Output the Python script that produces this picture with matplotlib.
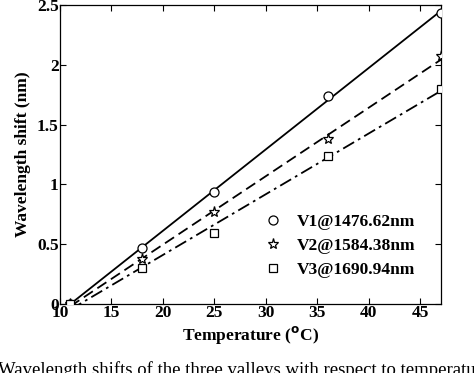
import numpy as np
import matplotlib
matplotlib.use('Agg')
import matplotlib.pyplot as plt

# temperatures (deg C) and measured wavelength shifts (nm)
temperature = [11, 18, 25, 36, 47]
shift_v1 = [0.0, 0.47, 0.94, 1.74, 2.43]
shift_v2 = [0.0, 0.38, 0.77, 1.38, 2.07]
shift_v3 = [0.0, 0.30, 0.59, 1.24, 1.80]
labels = ['V1@1476.62nm', 'V2@1584.38nm', 'V3@1690.94nm']
caption = 'Wavelength shifts of the three valleys with respect to temperature'

plt.rcParams['font.family'] = ['Liberation Serif', 'DejaVu Serif']

fig = plt.figure(figsize=(4.74, 3.73), dpi=100)
ax = fig.add_axes([0.1266, 0.185, 0.8034, 0.8016])

series = [
    (shift_v1, 'o', '-', 6.5),
    (shift_v2, '*', (0, (6, 3)), 8),
    (shift_v3, 's', (0, (7, 2.5, 1.5, 2.5)), 6),
]
x = np.array(temperature, dtype=float)
xfit = np.array([11, 47], dtype=float)
handles = []
for (y, mk, ls, ms), lab in zip(series, labels):
    h, = ax.plot(x, y, linestyle='none', marker=mk, markersize=ms,
                 markerfacecolor='white', markeredgecolor='black',
                 markeredgewidth=0.9, label=lab, zorder=3)
    handles.append(h)
    # straight-line fit through the measured points
    k, b = np.polyfit(x, y, 1)
    ax.plot(xfit, k * xfit + b, color='black', linestyle=ls, linewidth=1.3, zorder=2)

ax.set_xlim(10, 47)
ax.set_ylim(0, 2.5)
ax.set_xticks([10, 15, 20, 25, 30, 35, 40, 45])
ax.set_yticks([0, 0.5, 1, 1.5, 2, 2.5])
ax.set_yticklabels(['0', '0.5', '1', '1.5', '2', '2.5'])
ax.tick_params(direction='in', top=True, right=True, length=4, width=0.8,
               labelsize=12.5, pad=1)
for lbl in ax.get_xticklabels() + ax.get_yticklabels():
    lbl.set_fontweight('bold')
for sp in ax.spines.values():
    sp.set_linewidth(0.9)

ax.set_xlabel('Temperature ($\\mathbf{^{o}}$C)', fontsize=12.5, fontweight='bold', labelpad=2)
ax.set_ylabel('Wavelength shift (nm)', fontsize=12.5, fontweight='bold', labelpad=4)

ax.legend(handles=handles, loc='center', bbox_to_anchor=(0.735, 0.194),
          frameon=False, prop={'size': 12.5, 'weight': 'bold'},
          handlelength=1.0, handletextpad=0.9, labelspacing=0.45)

fig.text(-0.005, 0.032, caption, fontsize=13.5, ha='left', va='top')

fig.savefig('out.png', dpi=100)
